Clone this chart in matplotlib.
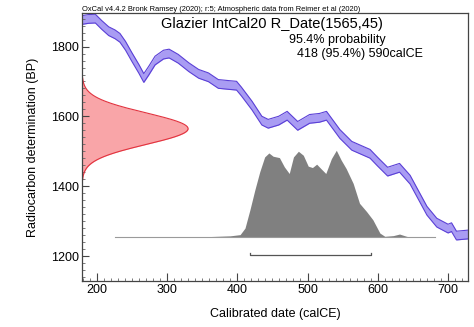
import numpy as np
import matplotlib.pyplot as plt
from matplotlib.ticker import MultipleLocator

plt.rcParams['font.family'] = ['Liberation Sans', 'DejaVu Sans']

# IntCal20 calibration curve (calCE, BP) and its 1-sigma half width
cal_x  = [179, 188, 198, 207, 217, 226, 233, 241, 250, 260, 267, 274, 283, 295,
          303, 316, 331, 345, 359, 373, 388, 399, 406, 421, 435, 444, 459, 471,
          486, 503, 517, 527, 546, 563, 589, 600, 614, 631, 646, 670, 684, 700,
          705, 712, 728]
cal_bp = [1876, 1879, 1880, 1862, 1844, 1835, 1825, 1802, 1770, 1736, 1710, 1731,
          1760, 1777, 1780, 1765, 1741, 1722, 1712, 1693, 1690, 1688, 1671, 1631,
          1588, 1579, 1588, 1602, 1573, 1593, 1596, 1602, 1550, 1516, 1493, 1470,
          1442, 1453, 1419, 1330, 1296, 1279, 1283, 1259, 1262]
cal_err = 12.5

# radiocarbon date
r_mean, r_sd = 1565, 45

# calibrated probability (relative)
post_x = [226, 270, 280, 350, 390, 404, 411, 418, 425, 432, 439, 445, 451, 460,
          467, 474, 480, 487, 494, 501, 507, 513, 519, 526, 534, 541, 548, 555,
          565, 574, 584, 593, 603, 610, 622, 631, 641, 648, 681]
post_p = [0, 0.8, 0, 0.5, 1.5, 2.7, 9.3, 27.7, 47.7, 66, 81, 85, 81.7, 80.3, 71,
          64.3, 81, 86.7, 82.7, 71.7, 70.3, 73.7, 69.3, 64.3, 79.3, 87.7, 77.7,
          69.3, 54.3, 34.3, 26, 17.7, 4.3, 1, 1.7, 3.3, 1, 0, 0]

range_lo, range_hi = 418, 590

fig = plt.figure(figsize=(4.74, 3.27), dpi=100)
ax = fig.add_axes([0.173, 0.1407, 0.8137, 0.8195])

xlo, xhi = 179, 728
ylo, yhi = 1129, 1896

# calibration curve band
cal_x = np.array(cal_x)
cal_bp = np.array(cal_bp)
ax.fill_between(cal_x, cal_bp - cal_err, cal_bp + cal_err, color='#a99cf3', lw=0)
ax.plot(cal_x, cal_bp + cal_err, color='#5a3fd6', lw=0.8)
ax.plot(cal_x, cal_bp - cal_err, color='#5a3fd6', lw=0.8)

# radiocarbon date on the y axis
yy = np.linspace(r_mean - 3.3 * r_sd, r_mean + 3.3 * r_sd, 200)
g = np.exp(-0.5 * ((yy - r_mean) / r_sd) ** 2)
ax.fill_betweenx(yy, xlo, xlo + 151 * g, color='#f9a5a8', lw=0)
ax.plot(xlo + 151 * g, yy, color='#e2323e', lw=0.8)

# posterior on the x axis
base = 1254
scale = 250 / 88
post_y = base + np.array(post_p) * scale
ax.fill_between(post_x, base, post_y, color='#808080', lw=0)
ax.plot([post_x[0], post_x[-1]], [base, base], color='#9a9a9a', lw=0.8)

# 95.4% range bracket
by = 1202
ax.plot([range_lo, range_lo, range_hi, range_hi], [by + 7, by, by, by + 7],
        color='#555555', lw=0.9)

ax.set_xlim(xlo, xhi)
ax.set_ylim(ylo, yhi)
ax.xaxis.set_major_locator(MultipleLocator(100))
ax.xaxis.set_minor_locator(MultipleLocator(10))
ax.yaxis.set_major_locator(MultipleLocator(200))
ax.yaxis.set_minor_locator(MultipleLocator(20))
ax.tick_params(axis='x', which='major', direction='in', length=6, width=0.8,
               labelsize=9, pad=2, color='#444444')
ax.tick_params(axis='y', which='major', direction='in', length=5, width=0.8,
               labelsize=9, pad=2, color='#444444')
ax.tick_params(which='minor', direction='in', length=2.5, width=0.6, color='#666666')
for s in ax.spines.values():
    s.set_color('#444444')
    s.set_linewidth(0.9)

ax.set_xlabel('Calibrated date (calCE)', fontsize=9, labelpad=9)
ax.set_ylabel('Radiocarbon determination (BP)', fontsize=9, labelpad=9)

ax.text(0.205, 0.943, 'Glazier IntCal20 R_Date(1565,45)', transform=ax.transAxes,
        ha='left', va='baseline', fontsize=10.5)
ax.text(0.787, 0.888, '95.4% probability', transform=ax.transAxes,
        ha='right', va='baseline', fontsize=9)
ax.text(0.885, 0.835, '418 (95.4%) 590calCE', transform=ax.transAxes,
        ha='right', va='baseline', fontsize=9)
fig.text(0.173, 0.967,
         'OxCal v4.4.2 Bronk Ramsey (2020); r:5; Atmospheric data from Reimer et al (2020)',
         ha='left', va='baseline', fontsize=5.4)

fig.savefig('out.png', dpi=100)
